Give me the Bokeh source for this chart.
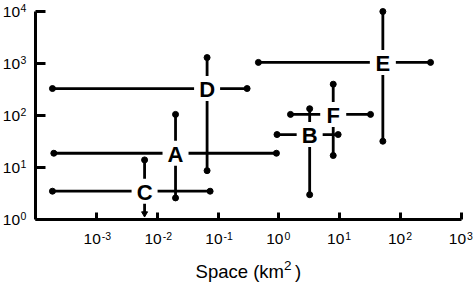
import math
from bokeh.plotting import figure
from bokeh.models import Range1d, FixedTicker, CustomJSTickFormatter
from bokeh.embed import file_html
from bokeh.resources import INLINE
from bokeh.core.properties import value

# ---- data ----
labels = ["A", "B", "C", "D", "E", "F"]
x_center = [0.020, 3.2, 0.0062, 0.066, 51.0, 7.8]
y_center = [18.8, 43.0, 3.5, 330.0, 1050.0, 105.0]
x_low = [2.0e-4, 0.93, 1.9e-4, 1.9e-4, 0.46, 1.55]
x_high = [0.91, 9.4, 0.074, 0.30, 310.0, 32.0]
y_low = [2.6, 3.0, 1.3, 8.7, 32.0, 17.0]
y_high = [105.0, 135.0, 14.0, 1300.0, 10000.0, 400.0]
x_ticks = [1e-3, 1e-2, 1e-1, 1, 10, 100, 1000]
y_ticks = [1, 10, 100, 1000, 10000]
x_title_main = "Space (km"
x_title_sup = "2"
x_title_end = ")"

X_START, X_END = 1e-4, 1e3
Y_START, Y_END = 1, 1e4
FONT = "Liberation Sans"
ARROW_LOW = {"C"}  # series whose lower end is drawn as a small arrow head

p = figure(width=474, height=283, x_axis_type="log", y_axis_type="log",
           x_range=Range1d(X_START, X_END), y_range=Range1d(Y_START, Y_END),
           output_backend="svg", toolbar_location=None,
           min_border_left=35, min_border_right=13, min_border_top=11, min_border_bottom=64)
p.outline_line_color = None
p.grid.visible = False
p.background_fill_color = "white"
p.border_fill_color = "white"

# error bars
p.segment(x0=x_low, y0=y_center, x1=x_high, y1=y_center, line_color="black", line_width=2.8)
p.segment(x0=x_center, y0=y_low, x1=x_center, y1=y_high, line_color="black", line_width=2.8)

# end dots
dot_x = x_low + x_high + x_center
dot_y = y_center + y_center + y_high
arr_x, arr_y = [], []
for lab, xc, yl in zip(labels, x_center, y_low):
    if lab in ARROW_LOW:
        arr_x.append(xc)
        arr_y.append(yl)
    else:
        dot_x.append(xc)
        dot_y.append(yl)
p.scatter(x=dot_x, y=dot_y, size=6, marker="circle", fill_color="black", line_color="black",
          level="overlay")
p.scatter(x=arr_x, y=arr_y, size=6, marker="inverted_triangle", fill_color="black",
          line_color="black", level="overlay")

# white boxes behind labels, then the letters
p.rect(x=x_center, y=y_center, width=26, height=25, width_units="screen", height_units="screen",
       fill_color="white", line_color=None)
p.text(x=x_center, y=y_center, text=labels, text_font=value(FONT), text_font_style="bold",
       text_font_size="22px", text_align="center", text_baseline="middle", text_color="black",
       y_offset=1)

# axes: lines and inward ticks; tick labels drawn as base "10" + superscript exponent
blank = CustomJSTickFormatter(code="return '';")
for ax in (p.xaxis[0], p.yaxis[0]):
    ax.formatter = blank
    ax.axis_line_width = 3
    ax.axis_line_color = "black"
    ax.major_tick_line_width = 3
    ax.major_tick_line_color = "black"
    ax.major_tick_out = 0
    ax.minor_tick_line_color = None
p.xaxis[0].ticker = FixedTicker(ticks=x_ticks)
p.yaxis[0].ticker = FixedTicker(ticks=y_ticks)
p.xaxis[0].major_tick_in = 7
p.yaxis[0].major_tick_in = 10


def exps(ticks):
    return [str(int(round(math.log10(t)))) for t in ticks]


common = dict(text_font=value(FONT), text_color="black", text_baseline="alphabetic",
              level="overlay")
nx, ny = len(x_ticks), len(y_ticks)
p.text(x=x_ticks, y=[Y_START] * nx, text=["10"] * nx, text_align="right",
       x_offset=4.5, y_offset=19.7, text_font_size="15.5px", **common)
p.text(x=x_ticks, y=[Y_START] * nx, text=exps(x_ticks), text_align="left",
       x_offset=5.5, y_offset=16.1, text_font_size="10.5px", **common)
p.text(x=[X_START] * ny, y=y_ticks, text=["10"] * ny, text_align="right",
       x_offset=-15.5, y_offset=0.2, text_font_size="15.5px", **common)
p.text(x=[X_START] * ny, y=y_ticks, text=exps(y_ticks), text_align="left",
       x_offset=-15, y_offset=-3.4, text_font_size="10.5px", **common)

# axis title "Space (km²)"
xmid = math.sqrt(X_START * X_END)
p.text(x=[xmid], y=[Y_START], text=[x_title_main], text_align="right", x_offset=35.5,
       y_offset=51.8, text_font_size="18.5px", **common)
p.text(x=[xmid], y=[Y_START], text=[x_title_sup], text_align="left", x_offset=35.5,
       y_offset=46.2, text_font_size="13.5px", **common)
p.text(x=[xmid], y=[Y_START], text=[x_title_end], text_align="left", x_offset=46.5,
       y_offset=51.8, text_font_size="18.5px", **common)

open("out.html", "w").write(file_html(p, INLINE))
